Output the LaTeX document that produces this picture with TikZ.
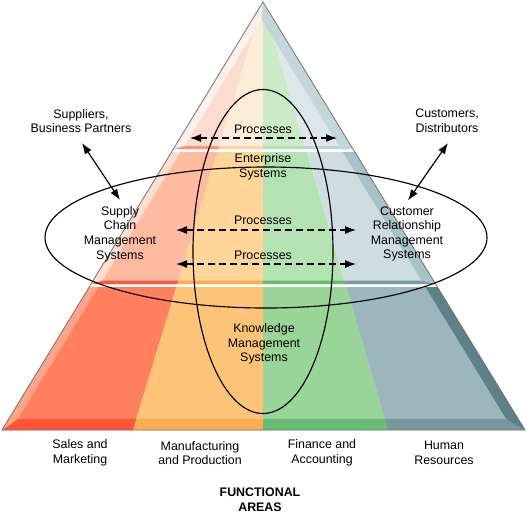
\documentclass[tikz,border=0pt]{standalone}
\usepackage{fontspec}
\setmainfont{Liberation Sans}
\usetikzlibrary{arrows.meta}

% tier faces
\definecolor{tRed}{HTML}{FCDCD0}
\definecolor{tOra}{HTML}{FDEDD8}
\definecolor{tGre}{HTML}{CBEAC7}
\definecolor{tBlu}{HTML}{DDE7E9}
\definecolor{mRed}{HTML}{FFBBA2}
\definecolor{mOra}{HTML}{FFD598}
\definecolor{mGre}{HTML}{B5E2B2}
\definecolor{mBlu}{HTML}{CFDDE1}
\definecolor{bRed}{HTML}{FF805F}
\definecolor{bOra}{HTML}{FDC478}
\definecolor{bGre}{HTML}{99D498}
\definecolor{bBlu}{HTML}{9DB6BB}
% tier strips
\definecolor{tsRed}{HTML}{FF9274}
\definecolor{tsOra}{HTML}{FFD4A0}
\definecolor{tsGre}{HTML}{B4E0B0}
\definecolor{tsBlu}{HTML}{BFD1D5}
\definecolor{msRed}{HTML}{FF5636}
\definecolor{msOra}{HTML}{FFAC4F}
\definecolor{msGre}{HTML}{66BE72}
\definecolor{msBlu}{HTML}{779AA0}
\definecolor{bsRed}{HTML}{FF5535}
\definecolor{bsOra}{HTML}{FFAD50}
\definecolor{bsGre}{HTML}{65BE71}
\definecolor{bsBlu}{HTML}{76979E}
% bevels
\definecolor{tLeft}{HTML}{FFF1EC}
\definecolor{tRight}{HTML}{C5D6DA}
\definecolor{mLeft}{HTML}{FFDED2}
\definecolor{mRight}{HTML}{A9C2C7}
\definecolor{bLeft}{HTML}{FFA488}
\definecolor{bRight}{HTML}{5E8087}

\newcommand{\fillsectors}[4]{%
  \fill[#1] (apex) -- (-20,430) -- (133,430) -- cycle;
  \fill[#2] (apex) -- (133,430) -- (263,430) -- cycle;
  \fill[#3] (apex) -- (263,430) -- (388,430) -- cycle;
  \fill[#4] (apex) -- (388,430) -- (545,430) -- cycle;}

\begin{document}
\begin{tikzpicture}
  [x=1pt,y=-1pt,
  txt/.style={align=center,inner sep=0,font=\fontsize{12.4}{14.6}\selectfont},
  areas/.style={align=center,inner sep=0,font=\fontsize{12.4}{14.6}\selectfont\bfseries},
  proc/.style={dash pattern=on 7pt off 4pt,line width=1.2pt,
                  {Latex[length=11pt,width=8pt]}-{Latex[length=11pt,width=8pt]}},
  link/.style={line width=1.2pt,
                  {Latex[length=11pt,width=8pt]}-{Latex[length=11pt,width=8pt]}},
  ring/.style={draw=black,line width=1.15pt},
  edge/.style={draw=black!55,line width=0.8pt}
                  ]
  \useasboundingbox (0,0) rectangle (529,515);
  \coordinate (apex) at (263,2);
  \coordinate (bl) at (2,430);
  \coordinate (br) at (525,430);

  % top tier
  \begin{scope}
    \clip (apex) -- (173.36,149) -- (352.98,149) -- cycle;
    \fillsectors{tRed}{tOra}{tGre}{tBlu}
    \begin{scope}
      \clip (173.36,149) -- (352.98,149) -- (339.14,146) -- (184.19,146) -- cycle;
      \fillsectors{tsRed}{tsOra}{tsGre}{tsBlu}
    \end{scope}
    \fill[tLeft] (apex) -- (173.36,149) -- (184.19,146) -- (261.52,19.19) -- cycle;
    \fill[tRight] (apex) -- (352.98,149) -- (339.14,146) -- (261.52,19.19) -- cycle;
  \end{scope}

  % middle tier
  \begin{scope}
    \clip (171.53,152) -- (91.04,284) -- (435.61,284) -- (354.82,152) -- cycle;
    \fillsectors{mRed}{mOra}{mGre}{mBlu}
    \begin{scope}
      \clip (91.04,284) -- (435.61,284) -- (421.47,280.5) -- (102.17,280.5) -- cycle;
      \fillsectors{msRed}{msOra}{msGre}{msBlu}
    \end{scope}
    \fill[mLeft] (171.53,152) -- (91.04,284) -- (102.17,280.5) -- (180.53,152) -- cycle;
    \fill[mRight] (354.82,152) -- (435.61,284) -- (421.47,280.5) -- (342.82,152) -- cycle;
  \end{scope}

  % bottom tier
  \begin{scope}
    \clip (89.21,287) -- (bl) -- (br) -- (437.45,287) -- cycle;
    \fillsectors{bRed}{bOra}{bGre}{bBlu}
    \begin{scope}
      \clip (bl) -- (br) -- (506.25,419) -- (17.71,419) -- cycle;
      \fillsectors{bsRed}{bsOra}{bsGre}{bsBlu}
    \end{scope}
    \fill[bLeft] (89.21,287) -- (bl) -- (17.71,419) -- (98.21,287) -- cycle;
    \fill[bRight] (437.45,287) -- (br) -- (506.25,419) -- (425.45,287) -- cycle;
  \end{scope}

  \draw[edge] (bl) -- (apex) -- (br) -- cycle;

  % systems
  \draw[ring] (263,251.5) ellipse [x radius=70pt,y radius=162pt];
  \draw[ring] (266,237.5) ellipse [x radius=221pt,y radius=70.5pt];

  \node[txt] (proc1) at (263,129) {Processes};
  \node[txt] (ent) at (263,167) {Enterprise\\Systems};
  \node[txt] (proc2) at (263,220.5) {Processes};
  \node[txt] (proc3) at (263,255) {Processes};
  \node[txt] (scm) at (120,234) {Supply\\Chain\\Management\\Systems};
  \node[txt] (crm) at (407,234) {Customer\\Relationship\\Management\\Systems};
  \node[txt] (kms) at (264,344) {Knowledge\\Management\\Systems};
  \node[txt] (suppliers) at (81,121) {Suppliers,\\Business Partners};
  \node[txt] (customers) at (447,121) {Customers,\\Distributors};
  \node[txt] (sales) at (80,453) {Sales and\\Marketing};
  \node[txt] (manuf) at (200,453) {Manufacturing\\and Production};
  \node[txt] (finance) at (322,453) {Finance and\\Accounting};
  \node[txt] (hr) at (444,453) {Human\\Resources};
  \node[areas] (functional) at (260,500) {FUNCTIONAL\\AREAS};

  \coordinate (p1l) at (190,138);
  \coordinate (p1r) at (337,138);
  \coordinate (p2l) at (176,230);
  \coordinate (p2r) at (356,230);
  \coordinate (p3l) at (176,264);
  \coordinate (p3r) at (356,264);
  \coordinate (sup1) at (82,143);
  \coordinate (sup2) at (120,200);
  \coordinate (cus1) at (448,143);
  \coordinate (cus2) at (408,200.5);
  \draw[proc] (p1l) to (p1r);
  \draw[proc] (p2l) to (p2r);
  \draw[proc] (p3l) to (p3r);
  \draw[link] (sup1) to (sup2);
  \draw[link] (cus1) to (cus2);
\end{tikzpicture}
\end{document}
